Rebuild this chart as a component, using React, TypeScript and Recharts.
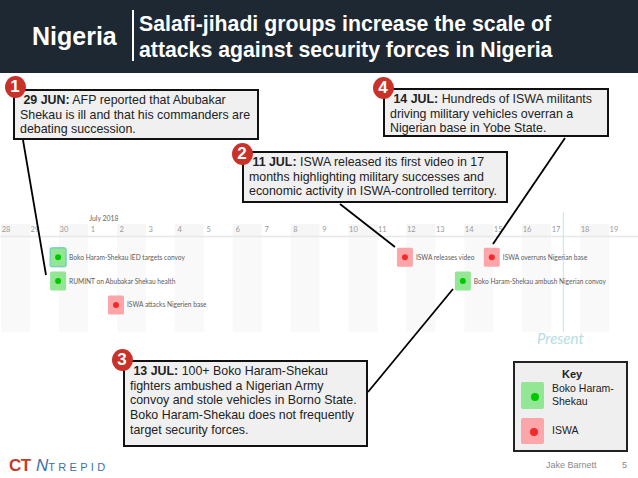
import React from 'react';
import { ScatterChart, Scatter, XAxis, YAxis, ReferenceArea, ReferenceLine, ReferenceDot, Label } from 'recharts';

const dayLabels = ['28', '29', '30', '1', '2', '3', '4', '5', '6', '7', '8', '9', '10', '11', '12', '13', '14', '15', '16', '17', '18', '19'];
const dayIndex = dayLabels.map((_, i) => i);
const stripeDays = [-2, 0, 2, 4, 6, 8, 10, 12, 14, 16, 18, 20];

const bokoEvents = [
  { day: 1.8, row: 0, label: 'Boko Haram-Shekau IED targets convoy', selected: true },
  { day: 1.8, row: 1, label: 'RUMINT on Abubakar Shekau health' },
  { day: 15.78, row: 1, label: 'Boko Haram-Shekau ambush Nigerian convoy' },
];
const iswaEvents = [
  { day: 3.8, row: 2, label: 'ISWA attacks Nigerien base' },
  { day: 13.78, row: 0, label: 'ISWA releases video' },
  { day: 16.78, row: 0, label: 'ISWA overruns Nigerian base' },
];
const presentDay = 19.25;

const titleLines = ['Salafi-jihadi groups increase the scale of', 'attacks against security forces in Nigeria'];

const callouts = [
  { n: '1', x: 13, y: 89, w: 246, h: 51, bx: 15, by: 87, date: '29 JUN:', lines: [' AFP reported that Abubakar', 'Shekau is ill and that his commanders are', 'debating succession.'] },
  { n: '2', x: 242, y: 151, w: 266, h: 52, bx: 242, by: 154, date: '11 JUL:', lines: [' ISWA released its first video in 17', 'months highlighting military successes and', 'economic activity in ISWA-controlled territory.'] },
  { n: '3', x: 123, y: 360, w: 245, h: 87, bx: 122, by: 360, date: '13 JUL:', lines: [' 100+ Boko Haram-Shekau', 'fighters ambushed a Nigerian Army', 'convoy and stole vehicles in Borno State.', 'Boko Haram-Shekau does not frequently', 'target security forces.'] },
  { n: '4', x: 383, y: 88, w: 226, h: 49, bx: 383, by: 88, date: '14 JUL:', lines: [' Hundreds of ISWA militants', 'driving military vehicles overran a', 'Nigerian base in Yobe State.'] },
];
const leaders = [
  [23, 140, 46, 275],
  [340, 204, 395, 247],
  [368, 392, 453, 289],
  [565, 138, 493, 244],
];

const SANS = '"Liberation Sans", Arial, sans-serif';

const EventMark = (props: any) => {
  const { cx, cy, payload, light, dot } = props;
  return (
    <g>
      <rect x={cx - 8} y={cy - 9.5} width={16} height={19} rx={1.5} fill={light} stroke={payload.selected ? '#5fc4c0' : 'none'} strokeWidth={1} />
      <circle cx={cx} cy={cy} r={3} fill={dot} />
      <text x={cx + 11} y={cy + 2.5} fontFamily="Lato" fontSize={6.6} fill="#5c5c5c">{payload.label}</text>
    </g>
  );
};

const Timeline = () => (
  <ScatterChart width={638} height={478} margin={{ top: 211, right: 0, bottom: 146, left: 0 }}>
    <XAxis
      type="number"
      dataKey="day"
      orientation="top"
      height={1}
      domain={[-0.207, 21.83]}
      allowDataOverflow
      ticks={dayIndex}
      interval={0}
      tickFormatter={(i: number) => dayLabels[i]}
      axisLine={false}
      tickLine={false}
      tick={{ fontFamily: 'Lato', fontSize: 7.5, fill: '#999999', dy: 28 }}
    />
    <YAxis type="number" dataKey="row" hide reversed domain={[-1.903, 3.139]} allowDataOverflow />
    {stripeDays.map((d) => (
      <ReferenceArea key={'h' + d} x1={d - 0.17} x2={d + 0.83} y1={-1.399} y2={-0.895} fill="#f6f6f6" fillOpacity={1} stroke="none" ifOverflow="hidden" />
    ))}
    {stripeDays.map((d) => (
      <ReferenceArea key={'b' + d} x1={d - 0.17} x2={d + 0.83} y1={-0.853} y2={3.139} fill="#f9f9f9" fillOpacity={1} stroke="none" ifOverflow="hidden" />
    ))}
    <ReferenceLine y={-0.875} stroke="#e8e8e8" strokeWidth={1.5} />
    <ReferenceLine x={presentDay} stroke="#c4e4e9" strokeWidth={1} />
    <ReferenceDot x={3.38} y={-1.62} r={0} fill="none" stroke="none">
      <Label value="July 2018" position="center" fontFamily="Lato" fontSize={6.9} fill="#666666" />
    </ReferenceDot>
    <Scatter data={bokoEvents} isAnimationActive={false} shape={<EventMark light="#93e693" dot="#00c800" />} />
    <Scatter data={iswaEvents} isAnimationActive={false} shape={<EventMark light="#fca6a9" dot="#f42a2a" />} />
  </ScatterChart>
);

const Callout = ({ c }: { c: (typeof callouts)[number] }) => (
  <>
    <div style={{ position: 'absolute', left: c.x, top: c.y, width: c.w, height: c.h, boxSizing: 'border-box', border: '2px solid #111', background: '#f0f0f0', fontFamily: SANS, fontSize: 12.4, lineHeight: '14.7px', color: '#222', padding: '2px 0 0 5px', whiteSpace: 'pre' }}>
      {c.lines.map((line, i) => (
        <div key={i}>
          {i === 0 && <b>{' ' + c.date}</b>}
          {line}
        </div>
      ))}
    </div>
    <div style={{ position: 'absolute', left: c.bx - 10.5, top: c.by - 11, width: 21, height: 22, borderRadius: '50%', background: '#c8322a', color: '#fff', fontFamily: SANS, fontSize: 17, fontWeight: 700, textAlign: 'center', lineHeight: '22px' }}>{c.n}</div>
  </>
);

const KeyBox = () => (
  <div style={{ position: 'absolute', left: 513, top: 361, width: 115, height: 91, boxSizing: 'border-box', border: '2px solid #222', background: '#efefef', fontFamily: SANS, color: '#222' }}>
    <div style={{ position: 'absolute', left: 47, top: 5, fontSize: 11, fontWeight: 700 }}>Key</div>
    <div style={{ position: 'absolute', left: 6, top: 19, width: 23, height: 27, borderRadius: 2, background: '#93e693' }}>
      <div style={{ position: 'absolute', left: 9.5, top: 11, width: 8, height: 8, borderRadius: '50%', background: '#00c800' }} />
    </div>
    <div style={{ position: 'absolute', left: 37, top: 19, fontSize: 10.5, lineHeight: '13px' }}>Boko Haram-<br />Shekau</div>
    <div style={{ position: 'absolute', left: 6, top: 55, width: 23, height: 26, borderRadius: 2, background: '#fca6a9' }}>
      <div style={{ position: 'absolute', left: 9, top: 10, width: 8, height: 8, borderRadius: '50%', background: '#f42a2a' }} />
    </div>
    <div style={{ position: 'absolute', left: 37, top: 61, fontSize: 10.5 }}>ISWA</div>
  </div>
);

export default function App() {
  return (
    <div style={{ position: 'absolute', left: 0, top: 0, width: 638, height: 478, background: '#fff', overflow: 'hidden' }}>
      <div style={{ position: 'absolute', left: 0, top: 0, width: 638, height: 73, background: '#1e2832' }} />
      <div style={{ position: 'absolute', left: 32, top: 22, color: '#fff', fontFamily: SANS, fontSize: 25, fontWeight: 700 }}>Nigeria</div>
      <div style={{ position: 'absolute', left: 132, top: 10, width: 2, height: 51, background: '#fff' }} />
      <div style={{ position: 'absolute', left: 139, top: 11, color: '#fff', fontFamily: SANS, fontSize: 21.25, fontWeight: 700, lineHeight: '26px', whiteSpace: 'pre' }}>
        {titleLines.map((l) => <div key={l}>{l}</div>)}
      </div>

      <div style={{ position: 'absolute', left: 0, top: 0 }}>
        <Timeline />
      </div>
      <div style={{ position: 'absolute', left: 537, top: 329, color: '#b5dde4', fontFamily: 'Lato', fontStyle: 'italic', fontSize: 15 }}>Present</div>

      <svg width={638} height={478} style={{ position: 'absolute', left: 0, top: 0, pointerEvents: 'none' }}>
        {leaders.map((l, i) => (
          <line key={i} x1={l[0]} y1={l[1]} x2={l[2]} y2={l[3]} stroke="#000" strokeWidth={1.8} />
        ))}
      </svg>

      {callouts.map((c) => <Callout key={c.n} c={c} />)}
      <KeyBox />

      <div style={{ position: 'absolute', left: 9, top: 456, color: '#c63a2c', fontFamily: SANS, fontSize: 17, fontWeight: 700, letterSpacing: -0.5, lineHeight: '20px' }}>CT</div>
      <div style={{ position: 'absolute', left: 36, top: 457, color: '#3d71ad', fontFamily: SANS, lineHeight: '18px', whiteSpace: 'pre' }}>
        <i style={{ fontSize: 17 }}>N</i><span style={{ fontSize: 11, letterSpacing: 3.3 }}>TREPID</span>
      </div>
      <div style={{ position: 'absolute', left: 546, top: 460, color: '#8a8a8a', fontFamily: SANS, fontSize: 9 }}>Jake Barnett</div>
      <div style={{ position: 'absolute', left: 622, top: 460, color: '#8a8a8a', fontFamily: SANS, fontSize: 9 }}>5</div>
    </div>
  );
}
